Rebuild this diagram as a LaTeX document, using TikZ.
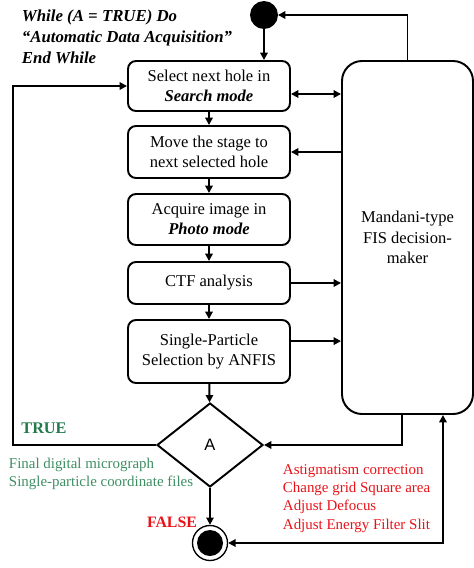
\documentclass[tikz,border=0pt]{standalone}
\usepackage{fontspec}
\setmainfont{Liberation Serif}
\newfontfamily\sansA{Liberation Sans}
\usetikzlibrary{arrows.meta,shapes.geometric}
\definecolor{falsered}{RGB}{232,18,24}
\definecolor{truegreen}{RGB}{34,122,76}
\definecolor{filegreen}{RGB}{62,142,98}
\tikzset{every picture/.style={line width=1.45pt}}
\tikzset{
  stepbox/.style={draw, rounded corners=6pt, minimum width=121.5pt, align=center, inner sep=0pt, font=\fontsize{12.4}{15}\selectfont},
  flow/.style={-{Triangle[length=5.5pt,width=5.5pt]}},
}
\begin{document}
\begin{tikzpicture}[x=0.75pt,y=0.75pt,yscale=-1,xscale=1]
\useasboundingbox (0,0) rectangle (474,568);
%Shape: Circle [id:start]
\draw (264,15) node [circle, fill=black, draw, minimum size=19.5pt, inner sep=0pt] (start) {};
%Shape: Rounded Rect [id:hole]
\draw (209,86) node [stepbox, minimum height=37.5pt] (hole) {Select next hole in\\\textbf{\textit{Search mode}}};
%Shape: Rounded Rect [id:move]
\draw (209,152) node [stepbox, minimum height=39pt] (move) {Move the stage to\\next selected hole};
%Shape: Rounded Rect [id:acquire]
\draw (209,219.5) node [stepbox, minimum height=38.25pt] (acquire) {Acquire image in\\\textbf{\textit{Photo mode}}};
%Shape: Rounded Rect [id:ctf]
\draw (209,283) node [stepbox, minimum height=31.5pt] (ctf) {CTF analysis};
%Shape: Rounded Rect [id:select]
\draw (209,351.5) node [stepbox, minimum height=47.25pt] (select) {Single-Particle\\Selection by ANFIS};
%Shape: Diamond [id:cond]
\draw (210,445) node [diamond, draw, inner sep=0pt, minimum width=79.5pt, minimum height=63pt, font=\sansA\fontsize{12.4}{15}\selectfont] (cond) {A};
%Shape: Circle [id:stop]
\draw (210,543) node [circle, draw, line width=1pt, minimum size=26.25pt, inner sep=0pt] (stop) {};
\draw (210,543) node [circle, fill=black, minimum size=19.5pt, inner sep=0pt] (stopdot) {};
%Shape: Rounded Rect [id:fis]
\draw (407.5,237.5) node [draw, rounded corners=15pt, minimum width=98.25pt, minimum height=264.75pt, align=center, font=\fontsize{12.4}{15.5}\selectfont] (fis) {Mandani-type\\FIS decision-\\maker};
%Coordinate [id:back]
\coordinate (back) at (13,86);
%Straight Lines
\draw [flow] (start.south) -- (start.south |- hole.north);
\draw [flow] (hole) -- (move);
\draw [flow] (move) -- (acquire);
\draw [flow] (acquire) -- (ctf);
\draw [flow] (ctf) -- (select);
\draw [flow] (select) -- (cond);
\draw [flow] (cond) -- (stop);
\draw [flow] (fis.north) |- (start.east);
\draw [{Triangle[length=5.5pt,width=5.5pt]}-{Triangle[length=5.5pt,width=5.5pt]}] ([yshift=6pt]hole.east) -- ([yshift=6pt]hole.east -| fis.west);
\draw [flow] (fis.west |- move.east) -- (move.east);
\draw [flow] (ctf.east) -- (ctf.east -| fis.west);
\draw [flow] ([yshift=-7.8pt]select.east) -- ([yshift=-7.8pt]select.east -| fis.west);
\draw [flow] ([xshift=-4pt]fis.south) |- (cond.east);
\draw [{Triangle[length=5.5pt,width=5.5pt]}-{Triangle[length=5.5pt,width=5.5pt]}] (stop.east) -| ([xshift=26.6pt]fis.south);
\draw [flow] (cond.west) -| (back) -- (hole.west);
% Text Node
\draw (21,37) node [anchor=west, align=left, inner sep=0pt, font=\fontsize{12.6}{15.75}\selectfont\bfseries\itshape] (loop) {While (A = TRUE) Do\\“Automatic Data Acquisition”\\End While};
% Text Node
\draw (44,428) node [inner sep=0pt, text=truegreen, font=\fontsize{12.2}{14}\selectfont\bfseries] (true) {TRUE};
% Text Node
\draw (8,474) node [anchor=west, align=left, inner sep=0pt, text=filegreen, font=\fontsize{11.2}{13.5}\selectfont] (files) {Final digital micrograph\\Single-particle coordinate files};
% Text Node
\draw (172,522) node [inner sep=0pt, text=falsered, font=\fontsize{11.9}{14}\selectfont\bfseries] (false) {FALSE};
% Text Node
\draw (282,498.5) node [anchor=west, align=left, inner sep=0pt, text=falsered, font=\fontsize{11.2}{13.7}\selectfont] (tune) {Astigmatism correction\\Change grid Square area\\Adjust Defocus\\Adjust Energy Filter Slit};
\end{tikzpicture}
\end{document}
